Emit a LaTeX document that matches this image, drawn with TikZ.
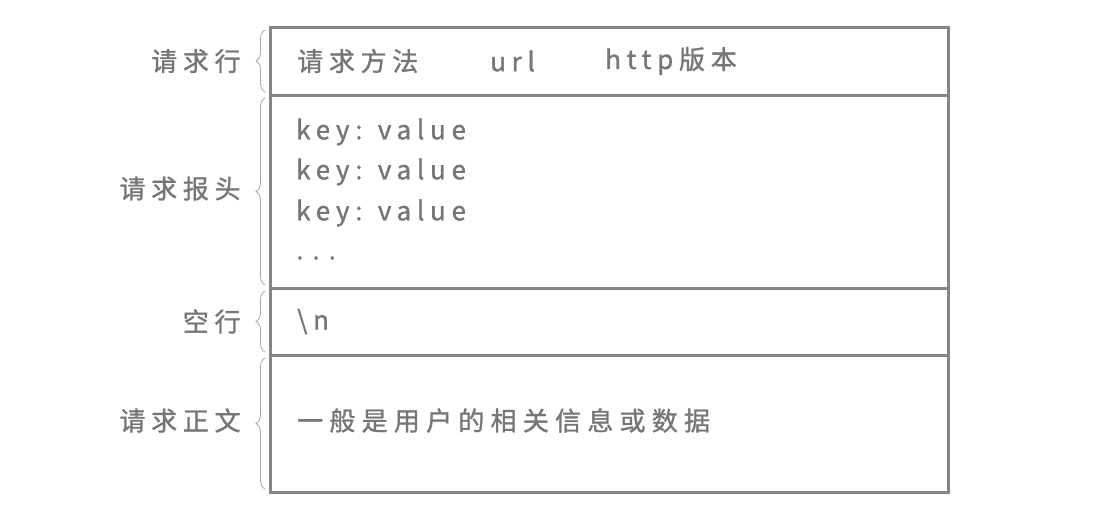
\documentclass[tikz,border=0pt]{standalone}
\usepackage{fontspec}
\setmainfont{Noto Sans CJK SC}[LetterSpace=22,FakeBold=1.2]
\usetikzlibrary{decorations.pathreplacing}
\usetikzlibrary{calc,positioning}
\definecolor{txtgray}{HTML}{767676}
\definecolor{boxgray}{HTML}{858585}
\definecolor{bracegray}{HTML}{A5A5A5}

\begin{document}
\begin{tikzpicture}[x=1pt,y=-1pt,
    every node/.style={text=txtgray, font=\fontsize{26}{30}\selectfont, inner sep=0pt},
    rowbox/.style={draw=boxgray, line width=3pt, minimum width=678pt, outer sep=0pt, anchor=north west},
    brace/.style={draw=bracegray, line width=0.8pt, decorate, decoration={brace, amplitude=9pt}}]
    \useasboundingbox (0,0) rectangle (1108,523);

    % the four parts of the request
    \node[rowbox, minimum height=68pt] (reqline) at (270,27) {};
    \node[rowbox, minimum height=193pt] (header) at (reqline.south west) {};
    \node[rowbox, minimum height=67pt] (blank) at (header.south west) {};
    \node[rowbox, minimum height=137pt] (body) at (blank.south west) {};

    % request line
    \node[right=27pt of reqline.west] (method) {请求方法};
    \node[right=220pt of reqline.west] (url) {url};
    \node[right=335pt of reqline.west] (version) {http版本};

    % header fields
    \node[anchor=west] (key1) at ([xshift=26pt,yshift=-37pt]header.north west) {key: value};
    \node[anchor=west] (key2) at ([xshift=26pt,yshift=-77pt]header.north west) {key: value};
    \node[anchor=west] (key3) at ([xshift=26pt,yshift=-118pt]header.north west) {key: value};
    \node[anchor=west] (more) at ([xshift=26pt,yshift=-163pt]header.north west) {.\hspace{9pt}.\hspace{9pt}.};

    % blank line and body
    \node[right=27pt of blank.west] (newline) {\textbackslash n};
    \node[right=27pt of body.west, yshift=3pt] (content) {\addfontfeature{LetterSpace=24}一般是用户的相关信息或数据};

    % braces with the names of the parts
    \draw[brace] ([xshift=-5pt,yshift=3pt]reqline.south west) -- node[left=24pt] (lblline) {请求行} ([xshift=-5pt,yshift=-3pt]reqline.north west);
    \draw[brace] ([xshift=-5pt,yshift=3pt]header.south west) -- node[left=24pt, yshift=3pt] (lblheader) {请求报头} ([xshift=-5pt,yshift=-3pt]header.north west);
    \draw[brace] ([xshift=-5pt,yshift=3pt]blank.south west) -- node[left=24pt] (lblblank) {空行} ([xshift=-5pt,yshift=-3pt]blank.north west);
    \draw[brace] ([xshift=-5pt,yshift=3pt]body.south west) -- node[left=24pt, yshift=3pt] (lblbody) {请求正文} ([xshift=-5pt,yshift=-3pt]body.north west);
\end{tikzpicture}
\end{document}
